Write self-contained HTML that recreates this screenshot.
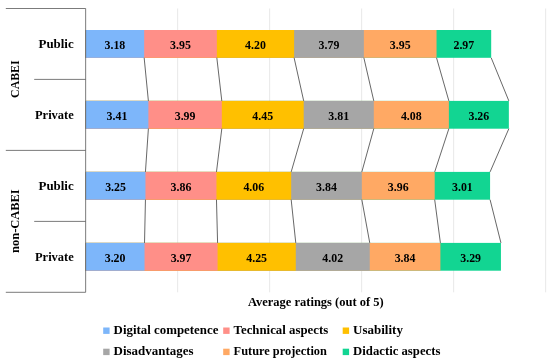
<!DOCTYPE html>
<html><head><meta charset="utf-8"><title>Average ratings</title>
<style>
html,body{margin:0;padding:0;background:#fff;}
svg{display:block;font-family:"Liberation Serif",serif;font-weight:bold;font-size:12px;fill:#000;}
</style></head><body>
<svg width="550" height="360" viewBox="0 0 550 360">
<rect width="550" height="360" fill="#fff"/>

<line x1="177.65" y1="8.5" x2="177.65" y2="292.3" stroke="#E2E2E2" stroke-width="0.8"/>
<line x1="269.65" y1="8.5" x2="269.65" y2="292.3" stroke="#E2E2E2" stroke-width="0.8"/>
<line x1="361.65" y1="8.5" x2="361.65" y2="292.3" stroke="#E2E2E2" stroke-width="0.8"/>
<line x1="453.65" y1="8.5" x2="453.65" y2="292.3" stroke="#E2E2E2" stroke-width="0.8"/>
<line x1="545.65" y1="8.5" x2="545.65" y2="292.3" stroke="#E2E2E2" stroke-width="0.8"/>
<rect x="85.65" y="30" width="405.54" height="27.80" fill="#12D592"/>
<rect x="85.65" y="30" width="350.89" height="27.80" fill="#FFA964"/>
<rect x="85.65" y="30" width="278.21" height="27.80" fill="#A6A6A6"/>
<rect x="85.65" y="30" width="208.47" height="27.80" fill="#FFC000"/>
<rect x="85.65" y="30" width="131.19" height="27.80" fill="#FF8F88"/>
<rect x="85.65" y="30" width="58.51" height="27.80" fill="#7DB6FA"/>
<rect x="85.65" y="100.9" width="423.20" height="27.80" fill="#12D592"/>
<rect x="85.65" y="100.9" width="363.22" height="27.80" fill="#FFA964"/>
<rect x="85.65" y="100.9" width="288.14" height="27.80" fill="#A6A6A6"/>
<rect x="85.65" y="100.9" width="218.04" height="27.80" fill="#FFC000"/>
<rect x="85.65" y="100.9" width="136.16" height="27.80" fill="#FF8F88"/>
<rect x="85.65" y="100.9" width="62.74" height="27.80" fill="#7DB6FA"/>
<rect x="85.65" y="171.9" width="404.43" height="27.80" fill="#12D592"/>
<rect x="85.65" y="171.9" width="349.05" height="27.80" fill="#FFA964"/>
<rect x="85.65" y="171.9" width="276.18" height="27.80" fill="#A6A6A6"/>
<rect x="85.65" y="171.9" width="205.53" height="27.80" fill="#FFC000"/>
<rect x="85.65" y="171.9" width="130.82" height="27.80" fill="#FF8F88"/>
<rect x="85.65" y="171.9" width="59.80" height="27.80" fill="#7DB6FA"/>
<rect x="85.65" y="242.9" width="415.29" height="27.80" fill="#12D592"/>
<rect x="85.65" y="242.9" width="354.75" height="27.80" fill="#FFA964"/>
<rect x="85.65" y="242.9" width="284.10" height="27.80" fill="#A6A6A6"/>
<rect x="85.65" y="242.9" width="210.13" height="27.80" fill="#FFC000"/>
<rect x="85.65" y="242.9" width="131.93" height="27.80" fill="#FF8F88"/>
<rect x="85.65" y="242.9" width="58.88" height="27.80" fill="#7DB6FA"/>
<line x1="144.16" y1="57.8" x2="148.39" y2="100.9" stroke="#404040" stroke-width="0.8"/>
<line x1="216.84" y1="57.8" x2="221.81" y2="100.9" stroke="#404040" stroke-width="0.8"/>
<line x1="294.12" y1="57.8" x2="303.69" y2="100.9" stroke="#404040" stroke-width="0.8"/>
<line x1="363.86" y1="57.8" x2="373.79" y2="100.9" stroke="#404040" stroke-width="0.8"/>
<line x1="436.54" y1="57.8" x2="448.87" y2="100.9" stroke="#404040" stroke-width="0.8"/>
<line x1="491.19" y1="57.8" x2="508.85" y2="100.9" stroke="#404040" stroke-width="0.8"/>
<line x1="148.39" y1="128.7" x2="145.45" y2="171.9" stroke="#404040" stroke-width="0.8"/>
<line x1="221.81" y1="128.7" x2="216.47" y2="171.9" stroke="#404040" stroke-width="0.8"/>
<line x1="303.69" y1="128.7" x2="291.18" y2="171.9" stroke="#404040" stroke-width="0.8"/>
<line x1="373.79" y1="128.7" x2="361.83" y2="171.9" stroke="#404040" stroke-width="0.8"/>
<line x1="448.87" y1="128.7" x2="434.70" y2="171.9" stroke="#404040" stroke-width="0.8"/>
<line x1="508.85" y1="128.7" x2="490.08" y2="171.9" stroke="#404040" stroke-width="0.8"/>
<line x1="145.45" y1="199.7" x2="144.53" y2="242.9" stroke="#404040" stroke-width="0.8"/>
<line x1="216.47" y1="199.7" x2="217.58" y2="242.9" stroke="#404040" stroke-width="0.8"/>
<line x1="291.18" y1="199.7" x2="295.78" y2="242.9" stroke="#404040" stroke-width="0.8"/>
<line x1="361.83" y1="199.7" x2="369.75" y2="242.9" stroke="#404040" stroke-width="0.8"/>
<line x1="434.70" y1="199.7" x2="440.40" y2="242.9" stroke="#404040" stroke-width="0.8"/>
<line x1="490.08" y1="199.7" x2="500.94" y2="242.9" stroke="#404040" stroke-width="0.8"/>
<text x="104.51" y="49" font-size="12.8" textLength="20.8" lengthAdjust="spacingAndGlyphs">3.18</text>
<text x="170.10" y="49" font-size="12.8" textLength="20.8" lengthAdjust="spacingAndGlyphs">3.95</text>
<text x="245.08" y="49" font-size="12.8" textLength="20.8" lengthAdjust="spacingAndGlyphs">4.20</text>
<text x="318.59" y="49" font-size="12.8" textLength="20.8" lengthAdjust="spacingAndGlyphs">3.79</text>
<text x="389.80" y="49" font-size="12.8" textLength="20.8" lengthAdjust="spacingAndGlyphs">3.95</text>
<text x="453.46" y="49" font-size="12.8" textLength="20.8" lengthAdjust="spacingAndGlyphs">2.97</text>
<text x="106.62" y="120" font-size="12.8" textLength="20.8" lengthAdjust="spacingAndGlyphs">3.41</text>
<text x="174.70" y="120" font-size="12.8" textLength="20.8" lengthAdjust="spacingAndGlyphs">3.99</text>
<text x="252.35" y="120" font-size="12.8" textLength="20.8" lengthAdjust="spacingAndGlyphs">4.45</text>
<text x="328.34" y="120" font-size="12.8" textLength="20.8" lengthAdjust="spacingAndGlyphs">3.81</text>
<text x="400.93" y="120" font-size="12.8" textLength="20.8" lengthAdjust="spacingAndGlyphs">4.08</text>
<text x="468.46" y="120" font-size="12.8" textLength="20.8" lengthAdjust="spacingAndGlyphs">3.26</text>
<text x="105.15" y="191" font-size="12.8" textLength="20.8" lengthAdjust="spacingAndGlyphs">3.25</text>
<text x="170.56" y="191" font-size="12.8" textLength="20.8" lengthAdjust="spacingAndGlyphs">3.86</text>
<text x="243.43" y="191" font-size="12.8" textLength="20.8" lengthAdjust="spacingAndGlyphs">4.06</text>
<text x="316.11" y="191" font-size="12.8" textLength="20.8" lengthAdjust="spacingAndGlyphs">3.84</text>
<text x="387.87" y="191" font-size="12.8" textLength="20.8" lengthAdjust="spacingAndGlyphs">3.96</text>
<text x="451.99" y="191" font-size="12.8" textLength="20.8" lengthAdjust="spacingAndGlyphs">3.01</text>
<text x="104.69" y="262" font-size="12.8" textLength="20.8" lengthAdjust="spacingAndGlyphs">3.20</text>
<text x="170.65" y="262" font-size="12.8" textLength="20.8" lengthAdjust="spacingAndGlyphs">3.97</text>
<text x="246.28" y="262" font-size="12.8" textLength="20.8" lengthAdjust="spacingAndGlyphs">4.25</text>
<text x="322.36" y="262" font-size="12.8" textLength="20.8" lengthAdjust="spacingAndGlyphs">4.02</text>
<text x="394.67" y="262" font-size="12.8" textLength="20.8" lengthAdjust="spacingAndGlyphs">3.84</text>
<text x="460.27" y="262" font-size="12.8" textLength="20.8" lengthAdjust="spacingAndGlyphs">3.29</text>
<line x1="85.65" y1="8.5" x2="85.65" y2="292.3" stroke="#595959" stroke-width="0.8"/>
<line x1="5.8" y1="8.5" x2="85.65" y2="8.5" stroke="#595959" stroke-width="0.8"/>
<line x1="34.2" y1="79.4" x2="85.65" y2="79.4" stroke="#595959" stroke-width="0.8"/>
<line x1="5.8" y1="150.4" x2="85.65" y2="150.4" stroke="#595959" stroke-width="0.8"/>
<line x1="34.2" y1="221.4" x2="85.65" y2="221.4" stroke="#595959" stroke-width="0.8"/>
<line x1="5.8" y1="292.3" x2="85.65" y2="292.3" stroke="#595959" stroke-width="0.8"/>
<text x="38.5" y="48" textLength="35.2" lengthAdjust="spacingAndGlyphs">Public</text>
<text x="35.0" y="119" textLength="38.7" lengthAdjust="spacingAndGlyphs">Private</text>
<text x="38.5" y="190" textLength="35.2" lengthAdjust="spacingAndGlyphs">Public</text>
<text x="35.0" y="261" textLength="38.7" lengthAdjust="spacingAndGlyphs">Private</text>
<text transform="translate(18.7,97.9) rotate(-90)" font-size="12.5" textLength="37.5" lengthAdjust="spacingAndGlyphs">CABEI</text>
<text transform="translate(18.7,252.9) rotate(-90)" font-size="12.5" textLength="63.6" lengthAdjust="spacingAndGlyphs">non-CABEI</text>
<text x="247.9" y="305.8" textLength="135.8" lengthAdjust="spacingAndGlyphs">Average ratings (out of 5)</text>
<rect x="103.2" y="327.5" width="6.4" height="6.4" fill="#7DB6FA"/>
<text x="113.6" y="334.0" textLength="104.8" lengthAdjust="spacingAndGlyphs">Digital competence</text>
<rect x="223.2" y="327.5" width="6.4" height="6.4" fill="#FF8F88"/>
<text x="233.6" y="334.0" textLength="94.6" lengthAdjust="spacingAndGlyphs">Technical aspects</text>
<rect x="342.7" y="327.5" width="6.4" height="6.4" fill="#FFC000"/>
<text x="353.1" y="334.0" textLength="49.8" lengthAdjust="spacingAndGlyphs">Usability</text>
<rect x="103.2" y="348.7" width="6.4" height="6.4" fill="#A6A6A6"/>
<text x="113.6" y="355.0" textLength="79.9" lengthAdjust="spacingAndGlyphs">Disadvantages</text>
<rect x="223.2" y="348.7" width="6.4" height="6.4" fill="#FFA964"/>
<text x="233.6" y="355.0" textLength="93.3" lengthAdjust="spacingAndGlyphs">Future projection</text>
<rect x="342.7" y="348.7" width="6.4" height="6.4" fill="#12D592"/>
<text x="353.1" y="355.0" textLength="87.3" lengthAdjust="spacingAndGlyphs">Didactic aspects</text>
</svg></body></html>
